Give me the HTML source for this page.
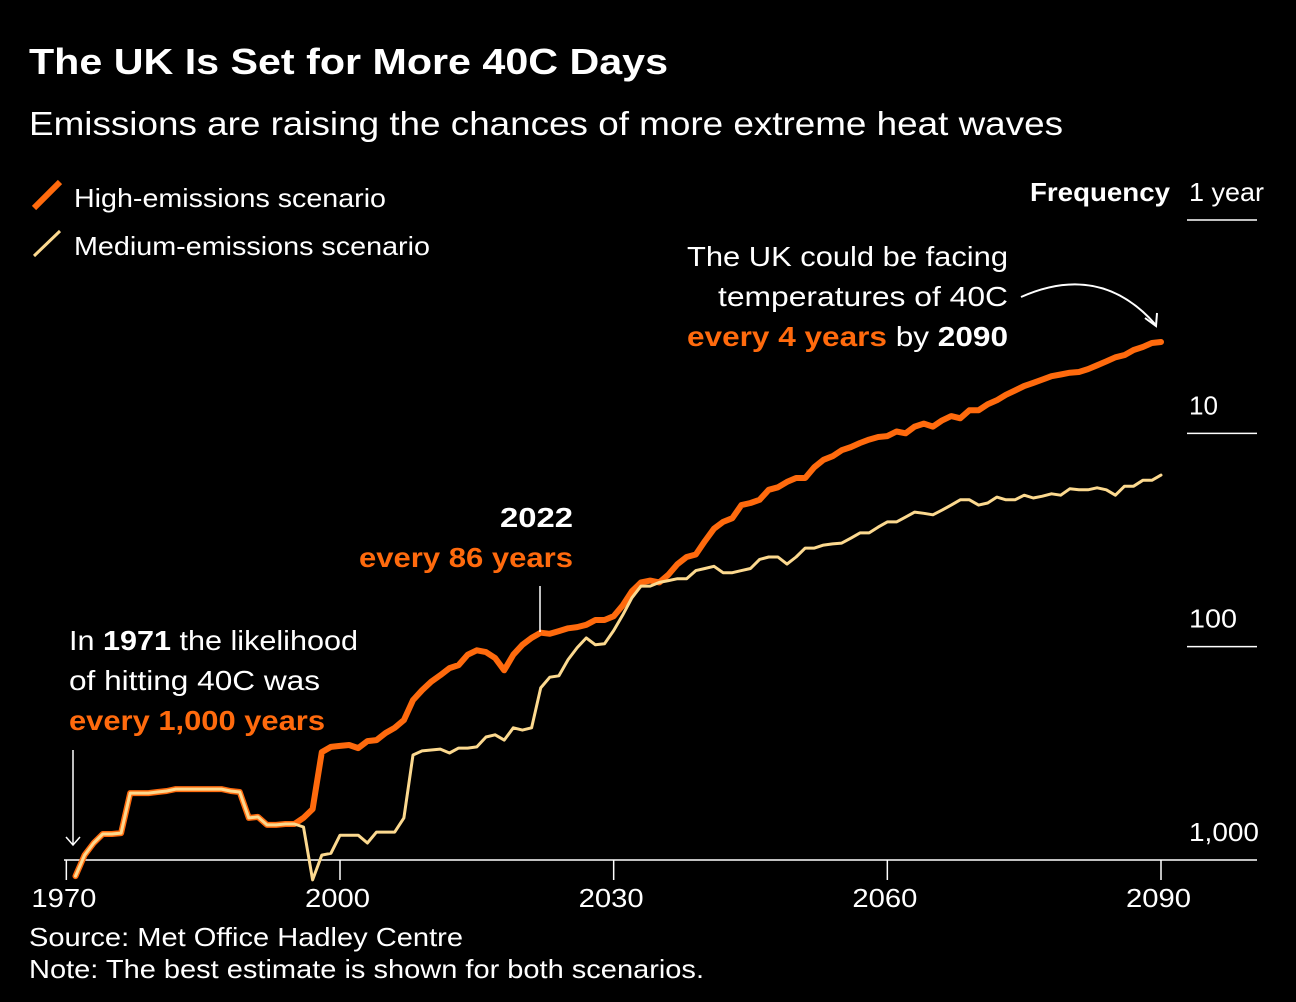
<!DOCTYPE html>
<html><head><meta charset="utf-8">
<style>
html,body{margin:0;padding:0;background:#000;}
svg{display:block;font-family:"Liberation Sans",Arial,sans-serif;}
</style></head>
<body>
<svg id="chart" width="1296" height="1002" viewBox="0 0 1296 1002">
<rect x="0" y="0" width="1296" height="1002" fill="#000"/>
<text x="29" y="74" font-size="36" font-weight="bold" fill="#fff" textLength="639" lengthAdjust="spacingAndGlyphs">The UK Is Set for More 40C Days</text>
<text x="29" y="135" font-size="33" fill="#fff" textLength="1034" lengthAdjust="spacingAndGlyphs">Emissions are raising the chances of more extreme heat waves</text>
<g>
 <g>
  <line x1="34" y1="208" x2="60" y2="182" stroke="#ff6a0d" stroke-width="6"/>
  <text x="74" y="207" font-size="26" fill="#fff" textLength="312" lengthAdjust="spacingAndGlyphs">High-emissions scenario</text>
 </g>
 <g>
  <line x1="34" y1="256" x2="60" y2="231" stroke="#fcd98f" stroke-width="3"/>
  <text x="74" y="255" font-size="26" fill="#fff" textLength="356" lengthAdjust="spacingAndGlyphs">Medium-emissions scenario</text>
 </g>
</g>
<text x="1030" y="201" font-size="26" font-weight="bold" fill="#fff" textLength="140" lengthAdjust="spacingAndGlyphs">Frequency</text>
<g id="yaxis"></g>
<g id="xaxis"></g>
<g id="series"></g>
<g>
 <text x="687" y="266" font-size="28" fill="#fff" textLength="321" lengthAdjust="spacingAndGlyphs">The UK could be facing</text>
 <text x="718" y="306" font-size="28" fill="#fff" textLength="290" lengthAdjust="spacingAndGlyphs">temperatures of 40C</text>
 <text x="687" y="346" font-size="28" fill="#fff" textLength="321" lengthAdjust="spacingAndGlyphs"><tspan fill="#ff6a0d" font-weight="bold">every 4 years</tspan> by <tspan font-weight="bold">2090</tspan></text>
 <path d="M1021,297 Q1100,262 1155,324" fill="none" stroke="#fff" stroke-width="2"/>
 <path d="M1145,318 L1156,326 L1157,313" fill="none" stroke="#fff" stroke-width="2"/>
</g>
<g>
 <text x="500" y="527" font-size="28" font-weight="bold" fill="#fff" textLength="73" lengthAdjust="spacingAndGlyphs">2022</text>
 <text x="359" y="567" font-size="28" font-weight="bold" fill="#ff6a0d" textLength="214" lengthAdjust="spacingAndGlyphs">every 86 years</text>
 <line x1="540" y1="586" x2="540" y2="632" stroke="#fff" stroke-width="1.5"/>
</g>
<g>
 <text x="69" y="650" font-size="28" fill="#fff" textLength="289" lengthAdjust="spacingAndGlyphs">In <tspan font-weight="bold">1971</tspan> the likelihood</text>
 <text x="69" y="690" font-size="28" fill="#fff" textLength="251" lengthAdjust="spacingAndGlyphs">of hitting 40C was</text>
 <text x="69" y="730" font-size="28" font-weight="bold" fill="#ff6a0d" textLength="256" lengthAdjust="spacingAndGlyphs">every 1,000 years</text>
 <line x1="73" y1="750" x2="73" y2="845" stroke="#fff" stroke-width="1.5"/>
 <path d="M66,837 L73,845 L80,837" fill="none" stroke="#fff" stroke-width="1.5"/>
</g>
<text x="29" y="946" font-size="26" fill="#fff" textLength="434" lengthAdjust="spacingAndGlyphs">Source: Met Office Hadley Centre</text>
<text x="29" y="978" font-size="26" fill="#fff" textLength="675" lengthAdjust="spacingAndGlyphs">Note: The best estimate is shown for both scenarios.</text>
</svg>
<script>
const startYear = 1971;
const xTicks = [1970, 2000, 2030, 2060, 2090];
const yTicks = [1, 10, 100, 1000];
const yTickLabels = ["1 year", "10", "100", "1,000"];
const highSeries = [1190,948,832,755,755,748,486,486,486,480,475,465,465,465,465,465,465,475,480,635,628,685,685,678,678,635,577,312,295,292,289,299,277,274,254,240,221,178,160,146,136,126,122,109,104,106,113,129,109,98,91,86,87,84.5,82,81,79,75,75,72,64,55,50,49,50,46,41,38,37,32,28,26,25,21.7,21.2,20.5,18.4,17.9,16.9,16.2,16.2,14.4,13.3,12.8,12.0,11.6,11.1,10.7,10.4,10.3,9.8,10.0,9.3,9.0,9.3,8.7,8.3,8.5,7.8,7.8,7.3,7.0,6.6,6.3,6.0,5.8,5.6,5.4,5.3,5.2,5.16,5.0,4.8,4.6,4.4,4.3,4.07,3.94,3.77,3.73];
const mediumSeries = [1190,948,832,755,755,748,486,486,486,480,475,465,465,465,465,465,465,475,480,635,628,685,685,678,678,700,1240,948,930,765,765,765,832,740,740,740,635,322,308,305,302,315,299,299,295,265,259,274,240,246,240,156,139,137,115,101,91,98,97,84,71,59,52,52,50,49,48,48,44,43,42,45,45,44,43,39,38,38,41,38,34.5,34.5,33.4,33,32.7,31,29.3,29.3,27.5,26,26,24.7,23.4,23.7,24.1,22.9,21.7,20.5,20.5,21.7,21.2,19.9,20.5,20.5,19.5,20.1,19.7,19.2,19.5,18.2,18.4,18.4,18.0,18.4,19.5,17.7,17.7,16.6,16.6,15.7];

const NS = "http://www.w3.org/2000/svg";
function xScale(yr){ return 340 + (yr - 2000) * (1161 - 340) / 90; }
function yScale(v){ return 220 + Math.log10(v) * (860 - 220) / 3; }
function mk(tag, attrs, parent){ const e=document.createElementNS(NS,tag); for(const k in attrs) e.setAttribute(k,attrs[k]); parent.appendChild(e); return e; }

const yAxis = document.getElementById('yaxis');
const yLabelWidths = [75, 29, 48, 70];
yTicks.forEach((t,i)=>{
  const y = yScale(t);
  if (t !== 1000) {
    const ln = mk('line',{x1:1187,x2:1257,y1:y,y2:y,stroke:'#fff','stroke-width':1.5},yAxis);
    
    
  }
  const tx = mk('text',{x:1189,y:y-19,'font-size':26,fill:'#fff',textLength:yLabelWidths[i],lengthAdjust:'spacingAndGlyphs'},yAxis);
  tx.textContent = yTickLabels[i];
  
  
});

const xAxis = document.getElementById('xaxis');
const base = mk('line',{x1:64,x2:1257,y1:860,y2:860,stroke:'#fff','stroke-width':1.5},xAxis);


xTicks.forEach(t=>{
  const x = xScale(t);
  const tk = mk('line',{x1:x,x2:x,y1:860,y2:880,stroke:'#fff','stroke-width':1.5},xAxis);
  
  
  const tx = mk('text',{x:x-35,y:907,'font-size':26,fill:'#fff',textLength:65,lengthAdjust:'spacingAndGlyphs'},xAxis);
  tx.textContent = t;
  
  
});

const sg = document.getElementById('series');
function pathFor(arr){ return arr.map((v,i)=>(i?'L':'M')+xScale(startYear+i).toFixed(1)+','+yScale(v).toFixed(1)).join(' '); }
const hp = mk('path',{d:pathFor(highSeries),fill:'none',stroke:'#ff6a0d','stroke-width':6,'stroke-linejoin':'round','stroke-linecap':'round'},sg);


const mp = mk('path',{d:pathFor(mediumSeries),fill:'none',stroke:'#fcd98f','stroke-width':3,'stroke-linejoin':'round','stroke-linecap':'round'},sg);


</script>
</body></html>
